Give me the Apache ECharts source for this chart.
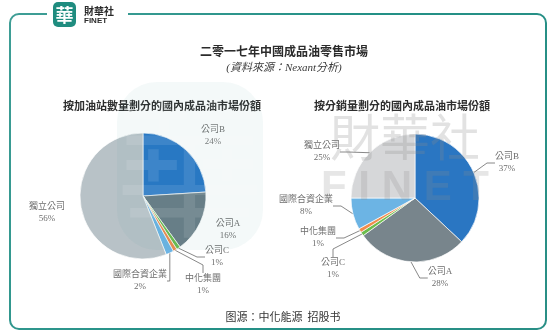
<!DOCTYPE html>
<html>
<head>
<meta charset="utf-8">
<script src="https://cdn.jsdelivr.net/npm/echarts@6/dist/echarts.min.js"></script>
<style>
  html, body { margin: 0; padding: 0; background: #fff; }
  #chart { width: 554px; height: 336px; }
</style>
</head>
<body>
<div id="chart"></div>
<script>
// 2017 China refined-oil retail market shares
const categories = ['公司B', '公司A', '公司C', '中化集團', '國際合資企業', '獨立公司'];
const stationShare = [24, 16, 1, 1, 2, 56];   // by number of filling stations
const volumeShare = [37, 28, 1, 1, 8, 25];    // by distribution volume

const mainTitle = '二零一七年中國成品油零售市場';
const sourceNote = '(資料來源：Nexant分析)';
const leftTitle = '按加油站數量劃分的國內成品油市場份額';
const rightTitle = '按分銷量劃分的國內成品油市場份額';
const footer = '图源：中化能源  招股书';

// slice colours
const leftColors = ['#2776c6', '#6a7d86', '#6cbd4c', '#f08c4c', '#6cb4e4', '#b8c2c7'];
const rightColors = ['#2a76c2', '#78858c', '#6cbd4c', '#f08c4c', '#6cb4e4', '#d6d7d9'];

// label anchor points (centre of each two-line label)
const leftLabelSpots = [[213, 136], [228, 230], [217, 257], [203, 285], [140, 281], [47, 213]];
const rightLabelSpots = [[507, 163], [440, 278], [333, 269], [318, 238], [306, 206], [322, 152]];
const leftLineShown = [false, false, true, true, true, false];

const serifFont = '"Liberation Serif", "Noto Sans CJK TC", serif';
const sansFont = '"Noto Sans CJK TC", "Noto Sans", sans-serif';

function buildData(values, colors, lineFlags) {
  return categories.map((name, i) => ({
    name: name,
    value: values[i],
    itemStyle: { color: colors[i] },
    labelLine: { show: lineFlags ? lineFlags[i] : true }
  }));
}

function pieSeries(values, colors, center, radius, spots, lineFlags) {
  return {
    type: 'pie',
    center: center,
    radius: radius,
    startAngle: 90,
    clockwise: true,
    avoidLabelOverlap: false,
    animation: false,
    z: 2,
    itemStyle: { borderColor: 'rgba(255,255,255,0.85)', borderWidth: 0.8 },
    label: {
      show: true,
      position: 'outside',
      formatter: '{b}\n{c}%',
      fontFamily: serifFont,
      fontSize: 9,
      lineHeight: 12,
      color: '#6e6e6e',
      align: 'center'
    },
    labelLine: {
      length: 8,
      length2: 8,
      lineStyle: { color: '#6a6a6a', width: 0.8 }
    },
    labelLayout: function (p) {
      const s = spots[p.dataIndex];
      return { x: s[0], y: s[1], align: 'center', verticalAlign: 'middle' };
    },
    emphasis: { disabled: true },
    data: buildData(values, colors, lineFlags)
  };
}

const chart = echarts.init(document.getElementById('chart'), null, { renderer: 'canvas' });

const frameStroke = new echarts.graphic.LinearGradient(0, 0, 1, 1, [
  { offset: 0, color: '#3f9e96' },
  { offset: 0.5, color: '#239086' },
  { offset: 1, color: '#2a8f86' }
]);

chart.setOption({
  backgroundColor: '#ffffff',
  title: [
    { text: mainTitle, left: 279, top: 40, textAlign: 'center',
      textStyle: { fontFamily: sansFont, fontSize: 12, fontWeight: 'bold', color: '#2b2b2b' } },
    { text: sourceNote, left: 279, top: 58, textAlign: 'center',
      textStyle: { fontFamily: serifFont, fontSize: 11, fontStyle: 'italic', fontWeight: 'normal', color: '#3a3a3a' } },
    { text: leftTitle, left: 157, top: 95, textAlign: 'center',
      textStyle: { fontFamily: sansFont, fontSize: 11, fontWeight: 'bold', color: '#2e2e2e' } },
    { text: rightTitle, left: 397, top: 95, textAlign: 'center',
      textStyle: { fontFamily: sansFont, fontSize: 11, fontWeight: 'bold', color: '#2e2e2e' } },
    { text: footer, left: 278, top: 306, textAlign: 'center',
      textStyle: { fontFamily: sansFont, fontSize: 11, fontWeight: 'normal', color: '#333333' } }
  ],
  graphic: [
    // outer rounded frame
    { type: 'rect', silent: true, z: 0, shape: { x: 10, y: 14, width: 536, height: 315, r: 9 },
      style: { fill: null, stroke: frameStroke, lineWidth: 2 } },
    // gap in the top edge for the logo
    { type: 'rect', silent: true, z: 1, shape: { x: 47, y: 9, width: 81, height: 10 },
      style: { fill: '#ffffff' } },
    // logo badge
    { type: 'rect', silent: true, z: 5, shape: { x: 53, y: 2, width: 23, height: 25, r: 5 },
      style: { fill: '#1f8c7f' } },
    { type: 'text', silent: true, z: 6, style: { x: 64.5, y: 15, text: '華', align: 'center', verticalAlign: 'middle',
      font: 'bold 18px "Noto Sans CJK TC"', fill: '#ffffff' } },
    { type: 'text', silent: true, z: 6, style: { x: 84, y: 11, text: '財華社', verticalAlign: 'middle',
      font: 'bold 10px "Noto Sans CJK TC"', fill: '#2a2a2a' } },
    { type: 'text', silent: true, z: 6, style: { x: 84, y: 21, text: 'FINET', verticalAlign: 'middle',
      font: 'bold 8px "Liberation Sans"', fill: '#2a2a2a' } },
    // left watermark badge
    { type: 'rect', silent: true, z: 10, shape: { x: 117, y: 82, width: 146, height: 168, r: 40 },
      style: { fill: 'rgba(70,160,150,0.06)' } },
    { type: 'text', silent: true, z: 11, style: { x: 190, y: 168, text: '華', align: 'center', verticalAlign: 'middle',
      font: '150px "Noto Sans CJK TC"', fill: 'rgba(255,255,255,0.10)' } },
    // right watermark wordmark
    { type: 'text', silent: true, z: 10, style: { x: 405, y: 137, text: '財華社', align: 'center', verticalAlign: 'middle',
      font: '50px "Noto Sans CJK TC"', fill: 'rgba(140,140,140,0.25)' } },
    { type: 'text', silent: true, z: 10, style: { x: 405, y: 188, text: 'F I N E T', align: 'center', verticalAlign: 'middle',
      font: 'bold 42px "Liberation Sans"', fill: 'rgba(140,140,140,0.22)' } }
  ],
  series: [
    pieSeries(stationShare, leftColors, [143, 196], 63, leftLabelSpots, leftLineShown),
    pieSeries(volumeShare, rightColors, [415, 198], 64, rightLabelSpots, null)
  ]
});
</script>
</body>
</html>
